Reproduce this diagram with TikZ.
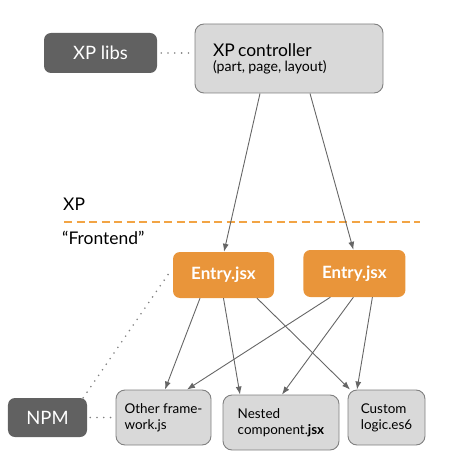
\documentclass[tikz,border=0pt]{standalone}
\usepackage{fontspec}
\setmainfont{Lato}
\usepackage{xcolor}
\definecolor{darkBox}   {HTML}{616161}
\definecolor{lightBox}  {HTML}{D9D9D9}
\definecolor{boxLine}   {HTML}{808080}
\definecolor{entryBack} {HTML}{E9953A}
\definecolor{arrowLine} {HTML}{666666}
\definecolor{borderLine}{HTML}{F2A444}
\usetikzlibrary{arrows.meta, positioning, calc}
\tikzset{
    darkbox/.style={rounded corners=7bp, fill=darkBox, text=white,
                    inner sep=0pt, font=\fontsize{18.5}{22}\selectfont},
    lightbox/.style={rounded corners=9bp, draw=boxLine, fill=lightBox,
                     line width=0.9bp, inner sep=0pt, align=left},
    entrybox/.style={rounded corners=7bp, fill=entryBack, text=white,
                     inner sep=0pt, font=\fontsize{17}{20}\selectfont\bfseries},
    edge/.style={-{Latex[length=8bp, width=6bp]}, line width=0.9bp, arrowLine},
    dotedge/.style={line width=1.8bp, line cap=round, dash pattern=on 0bp off 6.8bp,
                    darkBox!80},
    layerline/.style={line width=2bp, dash pattern=on 8bp off 4.5bp, borderLine},
    layerlabel/.style={anchor=west, inner sep=0pt, font=\fontsize{17.5}{20}\selectfont},
    leafbox/.style={lightbox, minimum height=55bp, font=\fontsize{13.5}{16}\selectfont},
}
\begin{document}
\begin{tikzpicture}[x=1bp, y=-1bp]
    \useasboundingbox (0,0) rectangle (474,475);
    % top layer
    \node[darkbox, minimum width=113bp, minimum height=40bp] (libs) at (100.5,53) {XP libs};
    \node[lightbox, minimum width=188bp, minimum height=69bp, text width=152bp]
        (ctrl) at (289,58.5)
        {{\fontsize{17.5}{21}\selectfont XP controller}\\[3bp]
         {\fontsize{14.2}{15}\selectfont (part, page, layout)}};
    \draw[dotedge] ([xshift=4bp]libs.east |- 0,53) -- ([xshift=-3bp]ctrl.west |- 0,53);
    % layer border
    \node[layerlabel] (xp) at (63,204) {XP};
    \node[layerlabel] (fe) at (62,238) {“Frontend”};
    \coordinate (lineL) at (64,222);
    \coordinate (lineR) at (420,222);
    \draw[layerline] (lineL) -- (lineR);
    % entry points
    \node[entrybox, minimum width=101bp, minimum height=46bp] (e1) at (223.5,275) {Entry.jsx};
    \node[entrybox, minimum width=102bp, minimum height=47bp, right=29bp of e1, yshift=1.5bp] (e2) {Entry.jsx};
    % bottom row
    \node[leafbox, minimum width=95bp] (other) at (163.5,417.5) {Other frame-\\work.js};
    \node[leafbox, minimum width=116bp] (nested) at (281,422.5) {Nested\\component.\textbf{jsx}};
    \node[leafbox, minimum width=77bp] (custom) at (386.5,417.5) {Custom\\logic.es6};
    \node[darkbox, minimum width=79bp, minimum height=39bp] (npm) at (47.5,417.5) {NPM};
    % dependencies
    \draw[edge] ([xshift=-29bp]ctrl.south) -- ([xshift=0.5bp]e1.north);
    \draw[edge] ([xshift=21bp]ctrl.south)  -- ([xshift=-1bp]e2.north);
    \draw[edge] ([xshift=-23.5bp]e1.south) -- ([xshift=1.5bp]other.north);
    \draw[edge] (e1.south)                 -- ([xshift=-41bp]nested.north);
    \draw[edge] ([xshift=33.5bp]e1.south)  -- ([xshift=-36.5bp]custom.north);
    \draw[edge] ([xshift=-24bp]e2.south)   -- ([xshift=23.5bp]other.north);
    \draw[edge] ([xshift=-1bp]e2.south)    -- ([xshift=1bp]nested.north);
    \draw[edge] ([xshift=18bp]e2.south)    -- ([xshift=-29.5bp]custom.north);
    % npm links
    \draw[dotedge] ([xshift=-4bp]npm.north east) -- ([xshift=-3bp,yshift=3bp]e1.west);
    \draw[dotedge] ([xshift=3bp]npm.east) -- ([xshift=-3bp]npm.east -| other.west);
\end{tikzpicture}
\end{document}
